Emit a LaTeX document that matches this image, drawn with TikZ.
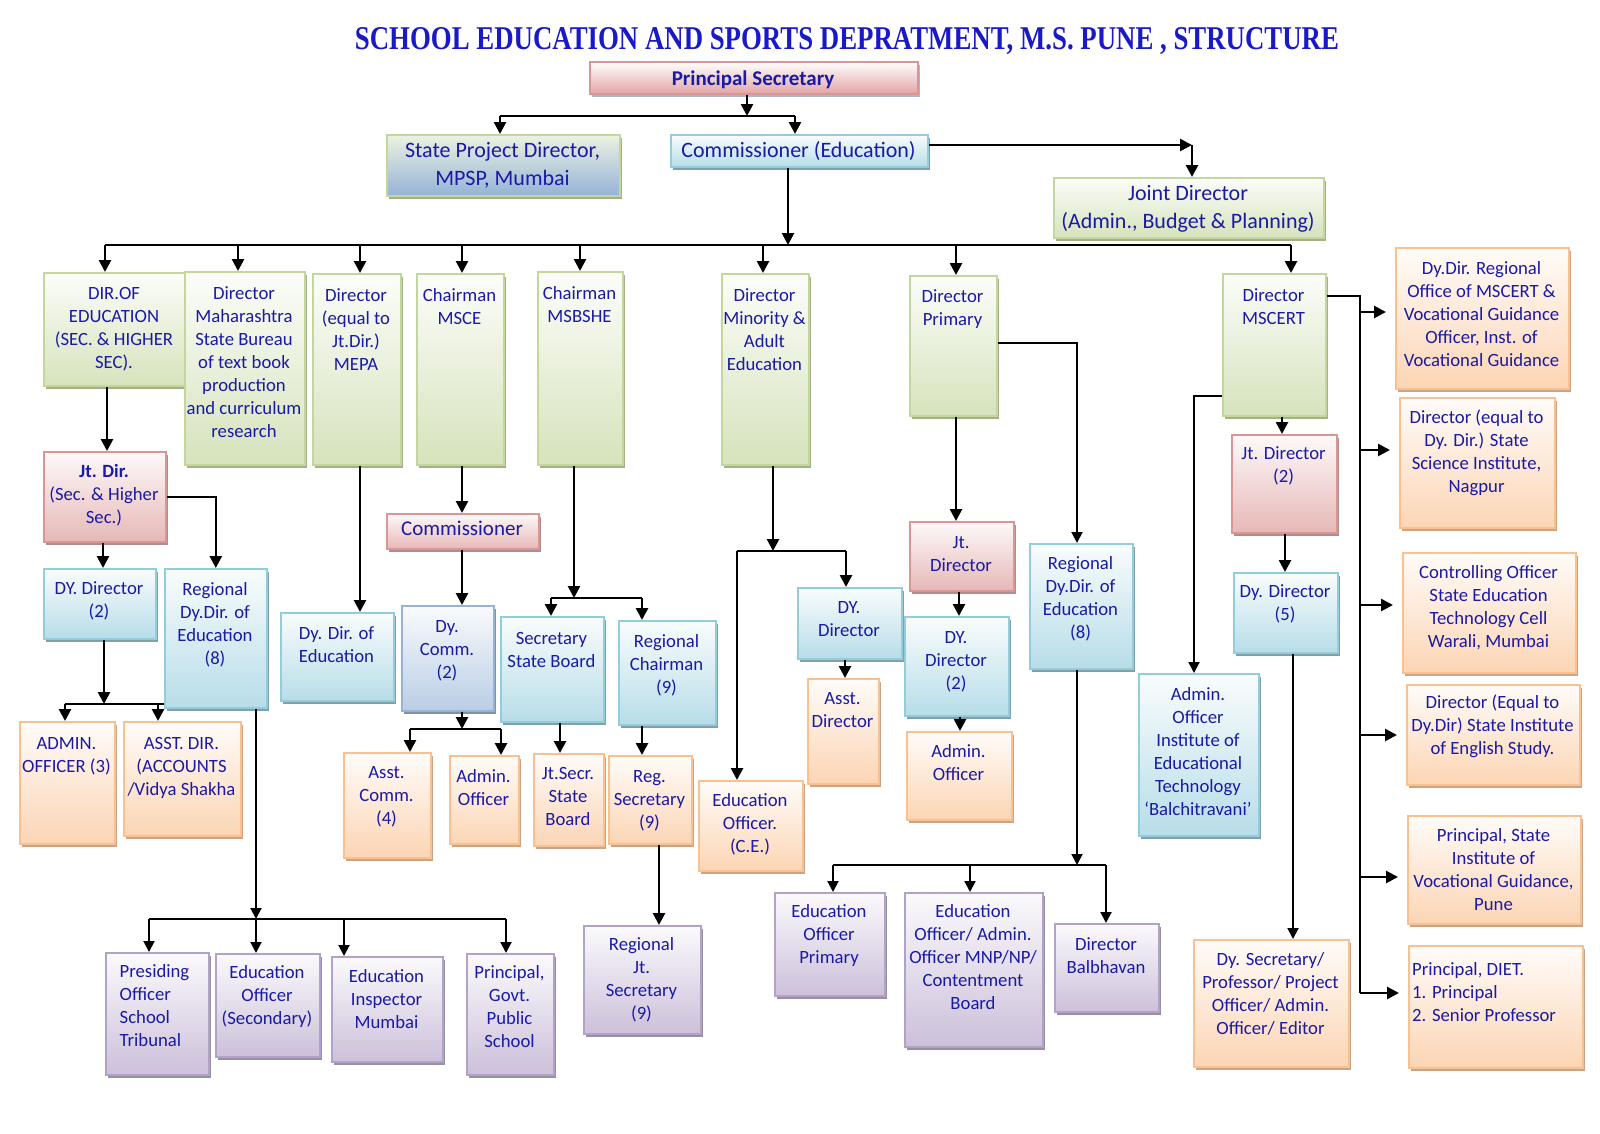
\documentclass[tikz,border=0pt]{standalone}
\usepackage{graphicx}
\usepackage{fontspec}
\setmainfont{Carlito}
\newfontfamily\titlefont{Liberation Serif}
\usetikzlibrary{arrows.meta,shadows}
\definecolor{txc}{RGB}{26,26,165}
\definecolor{ttl}{RGB}{25,25,200}
\definecolor{grF}{RGB}{214,227,188}
\definecolor{grB}{RGB}{195,214,155}
\definecolor{grS}{RGB}{165,176,138}
\definecolor{pkF}{RGB}{230,184,183}
\definecolor{pkB}{RGB}{217,150,148}
\definecolor{pkS}{RGB}{178,140,140}
\definecolor{blF}{RGB}{183,221,232}
\definecolor{blB}{RGB}{147,205,221}
\definecolor{blS}{RGB}{130,160,170}
\definecolor{orF}{RGB}{252,213,180}
\definecolor{orB}{RGB}{250,192,144}
\definecolor{orS}{RGB}{200,165,135}
\definecolor{puF}{RGB}{204,192,218}
\definecolor{puB}{RGB}{179,162,199}
\definecolor{puS}{RGB}{150,145,162}
\definecolor{dcF}{RGB}{185,205,229}
\definecolor{dcB}{RGB}{149,179,215}
\definecolor{dcS}{RGB}{130,145,165}
\definecolor{spT}{RGB}{236,242,224}
\definecolor{spF}{RGB}{149,179,215}
\definecolor{psF}{RGB}{226,165,165}
\definecolor{psS}{RGB}{170,185,200}
\newcommand\fbx{\fontsize{18.7}{23}\selectfont}
\newcommand\fbig{\fontsize{22}{28}\selectfont}
\newcommand\fmid{\fontsize{21}{25}\selectfont}
\newcommand\bx[9][]{%
  \node[#3, minimum width={#6-#4}, minimum height={#7-#5}] (#2) at (#4,#5) {};
  \node[tx,#1] at ({(#4+#6)/2},{#8-10}) {\strut #9};
}
\begin{document}
\begin{tikzpicture}[x=1pt,y=-1pt,
  bxs/.style={draw, line width=1.6pt, rectangle, inner sep=0pt, anchor=north west},
  kbox/.style n args={3}{bxs, draw=#1, top color=#2!8!white, bottom color=#2,
     drop shadow={fill=#3, opacity=1, shadow xshift=2pt, shadow yshift=-3pt}},
  gbox/.style={kbox={grB}{grF}{grS}},
  pbox/.style={kbox={pkB}{pkF}{pkS}},
  bbox/.style={kbox={blB}{blF}{blS}},
  obox/.style={kbox={orB}{orF}{orS}},
  ubox/.style={kbox={puB}{puF}{puS}},
  dbox/.style={kbox={dcB}{dcF}{dcS}},
  psbox/.style={bxs, draw=pkB, top color=white, bottom color=psF,
     drop shadow={fill=psS, opacity=1, shadow xshift=2pt, shadow yshift=-3pt}},
  spdbox/.style={bxs, draw=grB, top color=spT, bottom color=spF,
     drop shadow={fill=grS, opacity=1, shadow xshift=2pt, shadow yshift=-3pt}},
  tx/.style={anchor=north, align=center, inner sep=0pt, text=txc, font=\fbx},
  ln/.style={line width=2.6pt, black},
  arr/.style={ln, -{Triangle[width=12pt,length=12pt]}},
  tln/.style={line width=1.9pt, black},
  tarr/.style={tln, -{Triangle[width=11pt,length=11pt]}}
]
\fill[white] (0,0) rectangle (1600,1133);
\useasboundingbox (0,0) rectangle (1600,1133);

\node[anchor=base, text=ttl, inner sep=0pt] (title) at (847,49)
  {\resizebox{984pt}{22pt}{\titlefont\bfseries SCHOOL EDUCATION AND SPORTS DEPRATMENT, M.S. PUNE , STRUCTURE}};

% top
\bx[font=\fmid\bfseries,yshift=0.7pt]{ps}{psbox}{589}{61}{917}{93}{78}{Principal Secretary}
\bx[font=\fbig,yshift=2.5pt]{spd}{spdbox}{386}{134}{619}{195}{150}{State Project Director,\\MPSP, Mumbai}
\bx[font=\fbig,yshift=2.5pt]{comm}{bbox}{670}{134}{927}{166}{150}{Commissioner (Education)}
\bx[font=\fbig,yshift=2.5pt]{jd}{gbox}{1053}{177}{1323}{237}{193}{Joint Director\\(Admin., Budget \& Planning)}

% row 2
\bx{dir}{gbox}{43}{272}{185}{385}{293}{DIR.OF\\EDUCATION\\(SEC. \& HIGHER\\SEC).}
\bx{msb}{gbox}{184}{271}{304}{464}{293}{Director\\Maharashtra\\State Bureau\\of text book\\production\\and curriculum\\research}
\bx{mepa}{gbox}{312}{273}{400}{464}{295}{Director\\(equal to\\Jt.Dir.)\\MEPA}
\bx{msce}{gbox}{416}{273}{503}{464}{295}{Chairman\\MSCE}
\bx{msbshe}{gbox}{537}{271}{622}{464}{293}{Chairman\\MSBSHE}
\bx{minor}{gbox}{721}{273}{808}{464}{295}{Director\\Minority \&\\Adult\\Education}
\bx{prim}{gbox}{909}{275}{996}{415}{296}{Director\\Primary}
\bx{mscert}{gbox}{1222}{273}{1325}{415}{295}{Director\\MSCERT}

% right column
\bx{ra}{obox}{1395}{247}{1568}{388}{268}{Dy.Dir. Regional\\Office of MSCERT \&\\Vocational Guidance\\Officer, Inst. of\\Vocational Guidance}
\bx{rb}{obox}{1399}{397}{1554}{527}{417}{Director (equal to\\Dy. Dir.) State\\Science Institute,\\Nagpur}
\bx{rc}{obox}{1402}{552}{1575}{672}{572}{Controlling Officer\\State Education\\Technology Cell\\Warali, Mumbai}
\bx{rd}{obox}{1406}{684}{1579}{784}{702}{Director (Equal to\\Dy.Dir) State Institute\\of English Study.}
\bx{re}{obox}{1407}{815}{1580}{923}{835}{Principal, State\\Institute of\\Vocational Guidance,\\Pune}
\bx[align=left,anchor=north west,xshift=-83pt]{rf}{obox}{1408}{945}{1582}{1067}{969}{Principal, DIET.\\1. Principal\\2. Senior Professor}

% left branch
\bx{jtd}{pbox}{43}{451}{165}{541}{471}{\textbf{Jt. Dir.}\\(Sec. \& Higher\\Sec.)}
\bx{dyd}{bbox}{43}{568}{155}{638}{588}{DY. Director\\(2)}
\bx{rdd}{bbox}{164}{568}{266}{707}{589}{Regional\\Dy.Dir. of\\Education\\(8)}
\bx{adm}{obox}{19}{721}{114}{843}{743}{ADMIN.\\OFFICER (3)}
\bx{asd}{obox}{123}{721}{240}{835}{743}{ASST. DIR.\\(ACCOUNTS\\/Vidya Shakha}
\bx[align=left,anchor=north west,xshift=-37pt]{pres}{ubox}{105}{952}{208}{1074}{971}{Presiding\\Officer\\School\\Tribunal}
\bx{eos}{ubox}{215}{953}{319}{1056}{972}{Education\\Officer\\(Secondary)}
\bx{eim}{ubox}{331}{956}{442}{1061}{976}{Education\\Inspector\\Mumbai}
\bx{pgp}{ubox}{466}{953}{553}{1074}{972}{Principal,\\Govt.\\Public\\School}

% middle
\bx{ddoe}{bbox}{280}{612}{393}{700}{633}{Dy. Dir. of\\Education}
\bx[font=\fmid,yshift=0.7pt]{mcomm}{pbox}{386}{513}{538}{548}{528}{Commissioner}
\bx{dyc}{dbox}{401}{605}{493}{710}{626}{Dy.\\Comm.\\(2)}
\bx{acm}{obox}{343}{752}{430}{857}{772}{Asst.\\Comm.\\(4)}
\bx{aof}{obox}{449}{755}{518}{843}{776}{Admin.\\Officer}
\bx{ssb}{bbox}{500}{616}{603}{721}{638}{Secretary\\State Board}
\bx{rch}{bbox}{618}{620}{715}{724}{641}{Regional\\Chairman\\(9)}
\bx{jss}{obox}{533}{753}{603}{845}{773}{Jt.Secr.\\State\\Board}
\bx{rsc}{obox}{608}{755}{691}{843}{776}{Reg.\\Secretary\\(9)}
\bx{rjs}{ubox}{583}{925}{700}{1033}{944}{Regional\\Jt.\\Secretary\\(9)}

% minority
\bx{mdy}{bbox}{797}{587}{901}{658}{607}{DY.\\Director}
\bx{mas}{obox}{807}{678}{878}{783}{698}{Asst.\\Director}
\bx{meo}{obox}{698}{780}{802}{870}{800}{Education\\Officer.\\(C.E.)}

% primary
\bx{pjd}{pbox}{909}{521}{1013}{590}{542}{Jt.\\Director}
\bx{pdy}{bbox}{904}{616}{1008}{715}{637}{DY.\\Director\\(2)}
\bx{pao}{obox}{906}{731}{1011}{819}{751}{Admin.\\Officer}
\bx{prd}{bbox}{1029}{543}{1132}{668}{563}{Regional\\Dy.Dir. of\\Education\\(8)}
\bx{peo}{ubox}{774}{892}{884}{995}{911}{Education\\Officer\\Primary}
\bx{pea}{ubox}{904}{892}{1042}{1046}{911}{Education\\Officer/ Admin.\\Officer MNP/NP/\\Contentment\\Board}
\bx{pdb}{ubox}{1054}{923}{1158}{1011}{944}{Director\\Balbhavan}

% mscert
\bx{sjd}{pbox}{1231}{434}{1336}{532}{453}{Jt. Director\\(2)}
\bx{sdy}{bbox}{1233}{572}{1337}{652}{591}{Dy. Director\\(5)}
\bx{sds}{obox}{1193}{939}{1348}{1066}{959}{Dy. Secretary/\\Professor/ Project\\Officer/ Admin.\\Officer/ Editor}
\bx{sao}{bbox}{1138}{673}{1258}{835}{694}{Admin.\\Officer\\Institute of\\Educational\\Technology\\‘Balchitravani’}

% ---------- connectors ----------
\coordinate (jp) at (747,116);
\coordinate (js) at (500,116);
\coordinate (jc) at (795,116);
\draw[arr] (ps.south -| jp) -- (jp);
\draw[ln] (js) -- (jc);
\draw[arr] (js) -- (spd.north -| js);
\draw[arr] (jc) -- (comm.north -| jc);
\coordinate (jj) at (1192,145);
\draw[arr] (comm.east |- jj) -- (jj);
\draw[arr] (jj) -- (jd.north -| jj);
\coordinate (cd) at (788,245);
\draw[arr] (comm.south -| cd) -- (cd);
\coordinate (bl) at (105,245);
\coordinate (br) at (1291,245);
\draw[ln] (bl) -- (br);
\foreach \x/\nm in {105/dir,238/msb,360/mepa,462/msce,580/msbshe,763/minor,956/prim,1291/mscert}
  \draw[arr] (\x,245) -- (\nm.north -| \x,0);

% left
\draw[arr] (dir.south -| 107,0) -- (jtd.north -| 107,0);
\draw[arr] (jtd.east) -| (rdd.north);
\draw[arr] (jtd.south -| 103,0) -- (dyd.north -| 103,0);
\coordinate (ja) at (104,704);
\draw[arr] (dyd.south -| ja) -- (ja);
\draw[ln] (ja -| 65,0) -- (ja -| 164,0);
\draw[arr] (ja -| 65,0) -- (adm.north -| 65,0);
\draw[arr] (ja -| 158,0) -- (asd.north -| 158,0);
\coordinate (jb) at (256,919);
\draw[tarr] (rdd.south -| jb) -- (jb);
\draw[tln] (jb -| 149,0) -- (jb -| 506,0);
\foreach \x/\nm in {149/pres,256/eos,344/eim,506/pgp}
  \draw[tarr] (jb -| \x,0) -- (\nm.north -| \x,0);

% middle
\draw[arr] (mepa.south -| 360,0) -- (ddoe.north -| 360,0);
\draw[arr] (msce.south -| 462,0) -- (mcomm.north -| 462,0);
\draw[arr] (mcomm.south -| 462,0) -- (dyc.north -| 462,0);
\coordinate (jd2) at (462,729);
\draw[arr] (dyc.south -| jd2) -- (jd2);
\draw[ln] (jd2 -| 410,0) -- (jd2 -| 501,0);
\draw[arr] (jd2 -| 410,0) -- (acm.north -| 410,0);
\draw[arr] (jd2 -| 501,0) -- (aof.north -| 501,0);
\coordinate (jm) at (574,598);
\draw[arr] (msbshe.south -| jm) -- (jm);
\draw[ln] (jm -| 551,0) -- (jm -| 642,0);
\draw[arr] (jm -| 551,0) -- (ssb.north -| 551,0);
\draw[arr] (jm -| 642,0) -- (rch.north -| 642,0);
\draw[arr] (ssb.south -| 560,0) -- (jss.north -| 560,0);
\draw[arr] (rch.south -| 642,0) -- (rsc.north -| 642,0);
\draw[arr] (rsc.south -| 659,0) -- (rjs.north -| 659,0);

% minority
\coordinate (jn) at (773,551);
\draw[arr] (minor.south -| jn) -- (jn);
\draw[ln] (jn -| 737,0) -- (jn -| 846,0);
\draw[arr] (jn -| 737,0) -- (meo.north -| 737,0);
\draw[arr] (jn -| 846,0) -- (mdy.north -| 846,0);
\draw[arr] (mdy.south -| 845,0) -- (mas.north -| 845,0);

% primary
\draw[arr] (prim.south -| 956,0) -- (pjd.north -| 956,0);
\draw[tarr] (prim.east |- 0,343) -| (prd.north -| 1077,0);
\draw[arr] (pjd.south -| 959,0) -- (pdy.north -| 959,0);
\draw[arr] (pdy.south -| 960,0) -- (pao.north -| 960,0);
\coordinate (jq) at (1077,865);
\draw[tarr] (prd.south -| jq) -- (jq);
\draw[tln] (jq -| 833,0) -- (jq -| 1106,0);
\foreach \x/\nm in {833/peo,970/pea,1106/pdb}
  \draw[tarr] (jq -| \x,0) -- (\nm.north -| \x,0);

% mscert
\draw[arr] (mscert.south -| 1282,0) -- (sjd.north -| 1282,0);
\draw[arr] (sjd.south -| 1285,0) -- (sdy.north -| 1285,0);
\draw[tarr] (sdy.south -| 1293,0) -- (sds.north -| 1293,0);
\draw[tarr] (mscert.west |- 0,396) -| (sao.north -| 1194,0);
\coordinate (vt) at (1360,296);
\coordinate (vb) at (1360,993);
\draw[ln] (mscert.east |- vt) -- (vt) -- (vb);
\foreach \y/\nm in {312/ra,450/rb,605/rc,735/rd,877/re,993/rf}
  \draw[arr, shorten >=9pt] (vt |- 0,\y) -- (\nm.west |- 0,\y);
\end{tikzpicture}
\end{document}
